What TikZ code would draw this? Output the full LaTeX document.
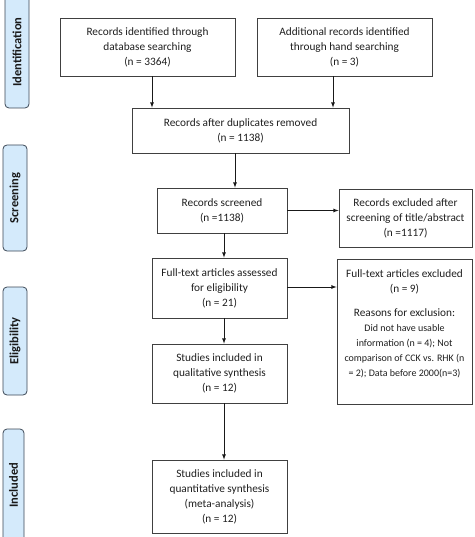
\documentclass[tikz,border=0pt]{standalone}
\usepackage{fontspec}
\setmainfont{Carlito}
\usetikzlibrary{calc}
\definecolor{phasefill}{RGB}{212,234,251}
\definecolor{edge}{RGB}{64,64,64}
\definecolor{phaseedge}{RGB}{60,72,86}
\tikzset{
	box/.style={draw=edge, line width=0.8pt, align=center, inner sep=2pt, text=black!88, font=\fontsize{11.3}{15}\selectfont},
	phase/.style={draw=phaseedge, fill=phasefill, rounded corners=4pt, line width=0.8pt, rotate=90, inner sep=0pt, text=black!90, font=\bfseries\fontsize{12.5}{14}\selectfont},
	arr/.style={-latex, line width=0.8pt, draw=black!90}
}

\begin{document}
\begin{tikzpicture}[x=1pt,y=-1pt]
				\useasboundingbox (0,0) rectangle (474,537);
				
				\node[phase, minimum width=112pt, minimum height=24pt] (ident) at (17,52) {Identification};
				\node[phase, minimum width=106pt, minimum height=24pt] (screen) at (15,198) {Screening};
				\node[phase, minimum width=108pt, minimum height=24pt] (elig) at (15,341) {Eligibility};
				\node[phase, minimum width=112pt, minimum height=21pt] (incl) at (13.5,485) {Included};
				
				\node[box, minimum width=175pt, minimum height=58pt] (db) at (147.5,47) {Records identified through\\database searching\\(n = 3364)};
				\node[box, minimum width=175pt, minimum height=58pt] (hand) at (344.5,47) {Additional records identified\\through hand searching\\(n = 3)};
				\node[box, minimum width=217pt, minimum height=45pt] (dup) at (240.5,130.5) {Records after duplicates removed\\(n = 1138)};
				\node[box, minimum width=130pt, minimum height=45pt] (scr) at (222,210.5) {Records screened\\(n =1138)};
				\node[box, minimum width=133pt, minimum height=58pt] (exscr) at (405.5,218) {Records excluded after\\screening of title/abstract\\(n =1117)};
				\node[box, minimum width=135pt, minimum height=60pt] (full) at (219.5,288) {Full-text articles assessed\\for eligibility\\(n = 21)};
				\node[box, minimum width=135pt, minimum height=145pt] (exfull) at (404.5,331.5) {Full-text articles excluded\\(n = 9)\\[9pt]Reasons for exclusion:\\{\fontsize{10}{14}\selectfont Did not have usable}\\{\fontsize{10}{14}\selectfont information (n = 4); Not}\\{\fontsize{10}{14}\selectfont comparison of CCK vs. RHK (n}\\{\fontsize{10}{14}\selectfont = 2); Data before 2000(n=3)}\\[2pt]\mbox{}};
				\node[box, minimum width=135pt, minimum height=59pt] (qual) at (219.5,373.5) {Studies included in\\qualitative synthesis\\(n = 12)};
				\node[box, minimum width=135pt, minimum height=73pt] (quant) at (219.5,496.5) {Studies included in\\quantitative synthesis\\(meta-analysis)\\(n = 12)};
				
				\coordinate (dbOut) at ([xshift=4.5pt]db.south);
				\coordinate (handOut) at ([xshift=-11.5pt]hand.south);
				\coordinate (dupOut) at ([xshift=-5.5pt]dup.south);
				\coordinate (scrOut) at ([xshift=2pt]scr.south);
				\coordinate (fullOut) at ([xshift=4.5pt]full.south);
				\coordinate (qualOut) at ([xshift=4.5pt]qual.south);
				
				\draw[arr] (dbOut) -- (dbOut |- dup.north);
				\draw[arr] (handOut) -- (handOut |- dup.north);
				\draw[arr] (dupOut) -- (dupOut |- scr.north);
				\draw[arr] (scr.east) -- (scr.east -| exscr.west);
				\draw[arr] (scrOut) -- (scrOut |- full.north);
				\draw[arr] ([yshift=1pt]full.east) -- ([yshift=1pt]full.east -| exfull.west);
				\draw[arr] (fullOut) -- (fullOut |- qual.north);
				\draw[arr] (qualOut) -- (qualOut |- quant.north);
			\end{tikzpicture}
\end{document}
